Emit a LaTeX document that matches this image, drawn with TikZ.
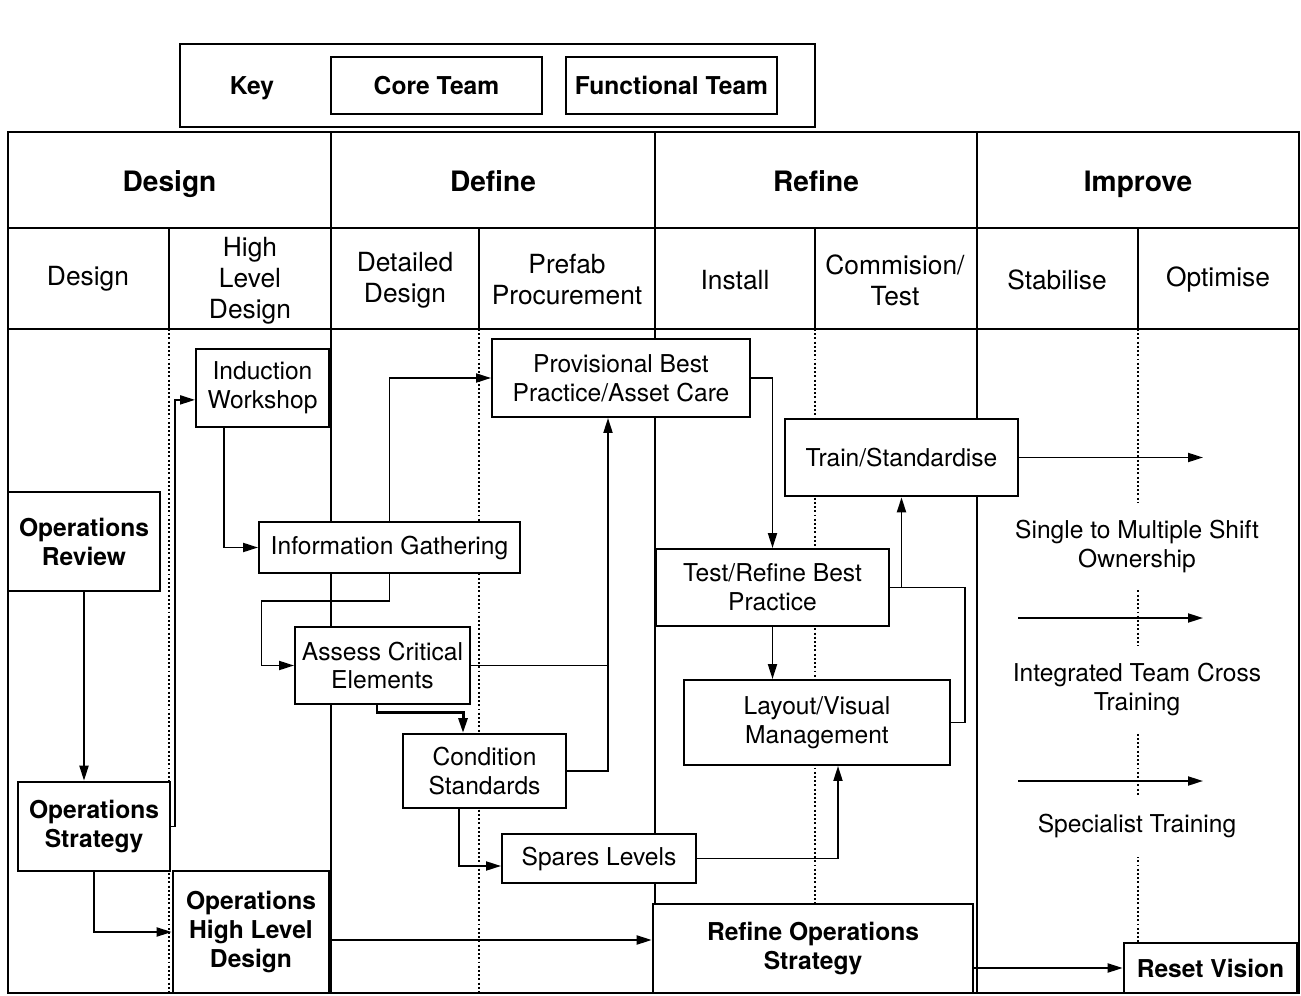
\documentclass[tikz,border=0pt]{standalone}
\usepackage{fontspec}
\setmainfont{TeX Gyre Heros}
\usetikzlibrary{positioning,arrows.meta}

\begin{document}
\begin{tikzpicture}[x=0.02cm, y=-0.02cm,
  rule/.style={line width=1.1pt},
  dots/.style={line width=0.9pt, dash pattern=on 1.1pt off 1.3pt},
  box/.style={draw, line width=1.1pt, fill=white, inner sep=0pt, align=center, font=\fontsize{14}{16.5}\selectfont},
  heavy/.style={box, line width=1.5pt},
  strong/.style={font=\fontsize{14}{16.5}\selectfont\bfseries},
  head/.style={anchor=base, font=\fontsize{16}{19}\selectfont\bfseries},
  phase/.style={align=center, font=\fontsize{15}{17.6}\selectfont},
  lab/.style={align=center, fill=white, inner xsep=1pt, font=\fontsize{14}{16.5}\selectfont},
  arr/.style={-{Triangle[length=3mm, width=1.8mm]}, line width=1.1pt}]
\useasboundingbox (0,0) rectangle (1301,996);

\node[box, minimum width=12.7cm, minimum height=1.66cm] (key) at (497.5,85.5) {};
\node[strong, anchor=base] (keylab) at (252,95) {Key};
\node[box, strong, minimum width=4.22cm, minimum height=1.14cm] (corekey) at (436.5,85.5) {Core Team};
\node[heavy, strong, minimum width=4.22cm, minimum height=1.14cm] (funckey) at (671.5,85.5) {Functional Team};

\draw[rule] (8,132) rectangle (1299,993);
\draw[rule] (8,228) -- (1299,228) (8,329) -- (1299,329);
\foreach \x in {331,655,977} \draw[rule] (\x,132) -- (\x,993);
\foreach \x in {169,479,815,1138} {
  \draw[rule] (\x,228) -- (\x,329);
  \draw[dots] (\x,329) -- (\x,993);
}

\node[head] (design) at (169.5,192) {Design};
\node[head] (define) at (493,192) {Define};
\node[head] (refine) at (816,192) {Refine};
\node[head] (improve) at (1138,192) {Improve};
\node[phase] (ph1) at (88,279) {Design};
\node[phase] (ph2) at (250,281) {High\\Level\\Design};
\node[phase] (ph3) at (405,280) {Detailed\\Design};
\node[phase] (ph4) at (567,280) {Prefab\\Procurement};
\node[phase] (ph5) at (735,280) {Install};
\node[phase] (ph6) at (895,280) {Commision/\\Test};
\node[phase] (ph7) at (1057,280) {Stabilise};
\node[phase] (ph8) at (1218,280) {Optimise};

\node[box, strong, minimum width=3.04cm, minimum height=1.98cm] (opsrev) at (84,541.5) {Operations\\Review};
\node[heavy, strong, minimum width=3.04cm, minimum height=1.78cm] (opsstrat) at (94,826.5) {Operations\\Strategy};
\node[heavy, strong, minimum width=3.12cm, minimum height=2.44cm] (opshld) at (251,932) {Operations\\High Level\\Design};
\node[box, minimum width=2.66cm, minimum height=1.56cm] (induct) at (262.5,388) {Induction\\Workshop};
\node[box, minimum width=5.22cm, minimum height=1.02cm] (info) at (389.5,547.5) {Information Gathering};
\node[box, minimum width=3.5cm, minimum height=1.54cm] (assess) at (382.5,665.5) {Assess Critical\\Elements};
\node[box, minimum width=3.26cm, minimum height=1.48cm] (cond) at (484.5,771) {Condition\\Standards};
\node[box, minimum width=3.88cm, minimum height=0.98cm] (spares) at (599,858.5) {Spares Levels};
\node[box, minimum width=5.16cm, minimum height=1.56cm] (prov) at (621,378) {Provisional Best\\Practice/Asset Care};
\node[heavy, minimum width=4.66cm, minimum height=1.54cm] (train) at (901.5,457.5) {Train/Standardise};
\node[box, minimum width=4.66cm, minimum height=1.54cm] (testref) at (772.5,587.5) {Test/Refine Best\\Practice};
\node[box, minimum width=5.32cm, minimum height=1.7cm] (layout) at (817,722.5) {Layout/Visual\\Management};
\node[heavy, strong, minimum width=6.4cm, minimum height=1.78cm] (refops) at (813,948.5) {Refine Operations\\Strategy};
\node[heavy, strong, minimum width=3.46cm, minimum height=1cm] (reset) at (1210.5,968) {Reset Vision};

\node[lab, minimum height=1.74cm] (shift) at (1137,546) {Single to Multiple Shift\\Ownership};
\node[lab, minimum height=1.74cm] (cross) at (1137,689) {Integrated Team Cross\\Training};
\node[lab, minimum height=1.26cm] (spec) at (1137,826) {Specialist Training};

\coordinate (a1) at (1203,457.5);
\coordinate (s2) at (1018,618);
\coordinate (a2) at (1203,618);
\coordinate (s3) at (1018,781);
\coordinate (a3) at (1203,781);
\coordinate (pj) at ([xshift=-0.26cm]prov.south);

\draw[arr] (opsrev.south) -- (opsrev.south |- opsstrat.north);
\draw[arr] (opsstrat.east) -- ++(4,0) |- (induct.190);
\draw[arr] (opsstrat.south) |- (opshld.west);
\draw[arr] ([yshift=-0.16cm]opshld.east) -- ([yshift=-0.16cm]opshld.east -| refops.west);
\draw[arr] (reset.west -| refops.east) -- (reset.west);
\draw[arr] ([xshift=-0.77cm]induct.south) |- (info.west);
\draw[arr] (info.north) |- (prov.west);
\draw[arr] (info.south) -- ++(0,27) -- ++(-128,0) |- (assess.west);
\draw[arr, line width=1.7pt] ([xshift=-0.11cm]assess.south) -- ++(0,8) -| ([xshift=-0.43cm]cond.north);
\draw[arr] (cond.east) -| (pj);
\draw[rule] (assess.east) -- (pj |- assess.east);
\draw[arr] (prov.east) -| (testref.north);
\draw[arr] (testref.south) -- (testref.south |- layout.north);
\draw[rule] (testref.east) -- ++(75,0) |- (layout.east);
\draw[arr] (train.south |- testref.east) -- (train.south);
\draw[arr] ([xshift=-0.51cm]cond.south) |- ([yshift=-0.15cm]spares.west);
\draw[arr] (spares.east) -| ([xshift=0.42cm]layout.south);
\draw[arr] (train.east) -- (a1);
\draw[arr] (s2) -- (a2);
\draw[arr] (s3) -- (a3);
\end{tikzpicture}
\end{document}
